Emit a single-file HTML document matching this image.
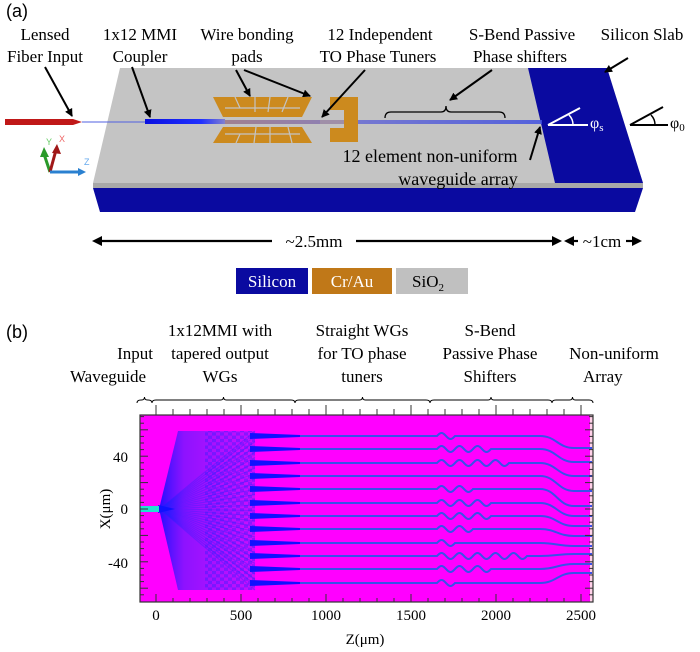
<!DOCTYPE html>
<html><head><meta charset="utf-8"><style>
html,body{margin:0;padding:0;background:#fff;}
svg{display:block;font-family:"Liberation Serif",serif;}
.s{font-family:"Liberation Sans",sans-serif;}
</style></head><body>
<svg id="g" width="700" height="652" viewBox="0 0 700 652" xmlns="http://www.w3.org/2000/svg">
<defs>
<marker id="ah" markerWidth="8" markerHeight="8" refX="7" refY="4" orient="auto" markerUnits="userSpaceOnUse"><path d="M0,0 L8,4 L0,8 z" fill="#000"/></marker>
<linearGradient id="mmi" x1="0" x2="1"><stop offset="0" stop-color="#0a10e0"/><stop offset="0.7" stop-color="#2030ff"/><stop offset="1" stop-color="#8080d0"/></linearGradient>
<linearGradient id="tun" x1="0" x2="1"><stop offset="0" stop-color="#a08090"/><stop offset="1" stop-color="#9080b0"/></linearGradient>
<linearGradient id="arr" x1="0" x2="1"><stop offset="0" stop-color="#7070d0"/><stop offset="1" stop-color="#4050e0"/></linearGradient>
<linearGradient id="fang" x1="0" x2="1"><stop offset="0" stop-color="#1010ff" stop-opacity="0.9"/><stop offset="0.25" stop-color="#3020ff" stop-opacity="0.55"/><stop offset="1" stop-color="#5030ff" stop-opacity="0.3"/></linearGradient>
<pattern id="chk" width="8" height="6.6" patternUnits="userSpaceOnUse"><rect x="0" y="0" width="4" height="3.3" fill="#2020ff" fill-opacity="0.35"/><rect x="4" y="3.3" width="4" height="3.3" fill="#2020ff" fill-opacity="0.35"/></pattern>
</defs>
<text x="6" y="17" class="s" font-size="18">(a)</text>
<g font-size="17" text-anchor="middle">
<text x="45" y="40">Lensed</text><text x="45" y="62">Fiber Input</text>
<text x="140" y="40">1x12 MMI</text><text x="140" y="62">Coupler</text>
<text x="247" y="40">Wire bonding</text><text x="247" y="62">pads</text>
<text x="380" y="40">12 Independent</text><text x="378" y="62">TO Phase  Tuners</text>
<text x="522" y="40">S-Bend Passive</text><text x="520" y="62">Phase shifters</text>
<text x="642" y="40">Silicon Slab</text>
</g>
<polygon points="93,188 643,188 635,212 100,212" fill="#0a0aa0"/>
<polygon points="93,183 643,183 643,188 93,188" fill="#a8a8a8"/>
<polygon points="120,68 607,68 643,183 93,183" fill="#c4c4c4"/>
<polygon points="528,68 607,68 643,183 555,183" fill="#0a0aa0"/>
<rect x="5" y="119" width="68" height="6" fill="#c01818"/>
<polygon points="73,119 82,122 73,125" fill="#c01818"/>
<line x1="82" y1="122" x2="145" y2="122" stroke="#5060e0" stroke-width="1"/>
<rect x="145" y="119" width="80" height="5" fill="url(#mmi)"/>
<rect x="225" y="120" width="95" height="4" fill="url(#tun)"/>
<rect x="320" y="120" width="222" height="4" fill="url(#arr)" opacity="0.85"/>
<g fill="#cc8a1e">
<polygon points="213,97 312,97 302,117 223,117"/>
<polygon points="223,127 302,127 312,143 213,143"/>
<rect x="330" y="97" width="28" height="45"/>
</g>
<g stroke="#c4c4c4" stroke-width="1.2">
<line x1="235" y1="97" x2="240" y2="108"/><line x1="255" y1="97" x2="255" y2="112"/><line x1="270" y1="97" x2="268" y2="112"/><line x1="288" y1="97" x2="282" y2="112"/>
<line x1="225" y1="108" x2="300" y2="108"/>
<line x1="225" y1="134" x2="300" y2="134"/>
<line x1="240" y1="134" x2="236" y2="143"/><line x1="256" y1="127" x2="254" y2="143"/><line x1="270" y1="127" x2="270" y2="143"/><line x1="288" y1="127" x2="292" y2="143"/>
</g>
<rect x="330" y="110" width="14" height="18" fill="#c4c4c4"/>
<rect x="320" y="120" width="24" height="4" fill="#9f8fa8"/>
<path d="M385,118 q0,-6 6,-6 h50 q5,0 5,-6 q0,6 5,6 h48 q6,0 6,6" fill="none" stroke="#000" stroke-width="1.3"/>
<g stroke="#000" stroke-width="2" marker-end="url(#ah)">
<line x1="45" y1="67" x2="72" y2="116"/>
<line x1="132" y1="67" x2="150" y2="117"/>
<line x1="236" y1="70" x2="250" y2="96"/>
<line x1="244" y1="70" x2="310" y2="96"/>
<line x1="365" y1="70" x2="322" y2="117"/>
<line x1="492" y1="70" x2="450" y2="100"/>
<line x1="628" y1="58" x2="605" y2="72"/>
<line x1="530" y1="160" x2="540" y2="127"/>
</g>
<text x="430" y="162" font-size="18" text-anchor="middle">12 element non-uniform</text>
<text x="458" y="185" font-size="18" text-anchor="middle">waveguide array</text>
<g stroke="#fff" stroke-width="2"><line x1="548" y1="125" x2="588" y2="125"/><line x1="548" y1="125" x2="580" y2="108"/></g>
<path d="M573,125 a14,14 0 0 0 -4,-10" fill="none" stroke="#fff" stroke-width="1.5"/>
<text x="590" y="128" font-size="16" fill="#fff">φ<tspan font-size="11" dy="3">s</tspan></text>
<g stroke="#000" stroke-width="2"><line x1="630" y1="125" x2="668" y2="125"/><line x1="630" y1="125" x2="663" y2="107"/></g>
<path d="M655,125 a14,14 0 0 0 -4,-10" fill="none" stroke="#000" stroke-width="1.5"/>
<text x="670" y="128" font-size="16">φ<tspan font-size="11" dy="3">0</tspan></text>
<g stroke-width="3" fill="none">
<line x1="50" y1="172" x2="44" y2="154" stroke="#2a9a2a"/>
<line x1="50" y1="172" x2="56" y2="150" stroke="#a01818"/>
<line x1="50" y1="172" x2="80" y2="172" stroke="#2a80d0"/>
</g>
<polygon points="40,157 44,147 49,157" fill="#2a9a2a"/>
<polygon points="52,153 57,144 61,154" fill="#a01818"/>
<polygon points="78,168 86,172 78,176" fill="#2a80d0"/>
<text x="46" y="145" font-size="9" fill="#6c6" class="s">Y</text>
<text x="59" y="142" font-size="9" fill="#e66" class="s">X</text>
<text x="84" y="165" font-size="9" fill="#6ae" class="s">Z</text>
<g stroke="#000" stroke-width="2.2">
<line x1="96" y1="241" x2="272" y2="241"/><line x1="356" y1="241" x2="558" y2="241"/>
<line x1="568" y1="241" x2="578" y2="241"/><line x1="626" y1="241" x2="636" y2="241"/>
</g>
<g fill="#000">
<polygon points="92,241 102,236 102,246"/><polygon points="562,241 552,236 552,246"/>
<polygon points="564,241 574,236 574,246"/><polygon points="642,241 632,236 632,246"/>
</g>
<text x="314" y="247" font-size="17" text-anchor="middle">~2.5mm</text>
<text x="602" y="247" font-size="17" text-anchor="middle">~1cm</text>
<rect x="236" y="268" width="72" height="26" fill="#0a0aa0"/>
<rect x="312" y="268" width="80" height="26" fill="#c07818"/>
<rect x="396" y="268" width="72" height="26" fill="#c0c0c0"/>
<text x="272" y="287" font-size="17" fill="#fff" text-anchor="middle">Silicon</text>
<text x="352" y="287" font-size="17" fill="#fff" text-anchor="middle">Cr/Au</text>
<text x="428" y="287" font-size="17" text-anchor="middle">SiO<tspan font-size="11" dy="4">2</tspan></text>
<text x="6" y="338" class="s" font-size="18">(b)</text>
<g font-size="17" text-anchor="middle">
<text x="220" y="336">1x12MMI with</text><text x="220" y="359">tapered output</text><text x="220" y="382">WGs</text>
<text x="153" y="359" text-anchor="end">Input</text><text x="108" y="382">Waveguide</text>
<text x="362" y="336">Straight WGs</text><text x="362" y="359">for TO phase</text><text x="362" y="382">tuners</text>
<text x="490" y="336">S-Bend</text><text x="490" y="359">Passive Phase</text><text x="490" y="382">Shifters</text>
<text x="614" y="359">Non-uniform</text><text x="583" y="382" text-anchor="start">Array</text>
</g>
<g id="braces" fill="none" stroke="#000" stroke-width="1"></g>
<rect x="140" y="415" width="453" height="187" fill="#ff00ff"/>
<rect x="590" y="415" width="3" height="187" fill="#ffd0e8"/>
<polygon points="160,505 178,431 255,431 255,590 178,590 160,513" fill="url(#fang)"/>
<polygon points="205,431 255,431 255,590 205,590" fill="url(#chk)"/>
<g id="fan"></g>
<rect x="140" y="506" width="19" height="6" fill="#20e0d0"/>
<g id="wg" fill="none" stroke="#3a50e8" stroke-width="2"></g>
<rect x="140" y="415" width="453" height="187" fill="none" stroke="#333" stroke-width="1.2"/>
<g id="ticks" stroke="#333" stroke-width="1"></g>
<g font-size="15" text-anchor="middle" id="xl"></g>
<text x="128" y="462" font-size="15" text-anchor="end">40</text>
<text x="128" y="514" font-size="15" text-anchor="end">0</text>
<text x="128" y="568" font-size="15" text-anchor="end">-40</text>
<text x="365" y="644" font-size="15" text-anchor="middle">Z(μm)</text>
<text x="110" y="509" font-size="15" text-anchor="middle" transform="rotate(-90 110 509)">X(μm)</text>
</svg>
<script>
var NS="http://www.w3.org/2000/svg";
function el(p,t,a){var e=document.createElementNS(NS,t);for(var k in a)e.setAttribute(k,a[k]);document.getElementById(p).appendChild(e);return e;}
var zx=function(z){return 156+z*0.17;};
for(var z=-100;z<=2700;z+=100){var x=zx(z);if(x<141||x>592)continue;var maj=z%500==0;
el("ticks","line",{x1:x,y1:602,x2:x,y2:602-(maj?8:4)});el("ticks","line",{x1:x,y1:415,x2:x,y2:415-(maj?10:6)});
if(maj){var t=el("xl","text",{x:x,y:620});t.textContent=z;}}
for(var xv=-70;xv<=70;xv+=5){var y=509-xv*1.32;if(y<416||y>601)continue;var m=xv%20==0;
el("ticks","line",{x1:140,y1:y,x2:140+(m?8:4),y2:y});el("ticks","line",{x1:593,y1:y,x2:593-(m?8:4),y2:y});}
[[137,152],[152,295],[295,430],[430,552],[552,593]].forEach(function(b){var a=b[0],c=b[1],m=(a+c)/2,y=400;
el("braces","path",{d:"M"+a+","+(y+3)+" q0,-3 4,-3 H"+(m-3)+" q3,0 3,-3 q0,3 3,3 H"+(c-4)+" q4,0 4,3"});});
for(var i=0;i<=30;i++){var y=431+i*159/30;
el("fan","line",{x1:160,y1:509,x2:255,y2:y,stroke:"#2020ff","stroke-opacity":0.3,"stroke-width":1.2});}
el("fan","polygon",{points:"158,505 175,509 158,513",fill:"#1010ff"});
var y0=[436,449,463,476,489,503,516,529,543,556,569,583];
var ye=[448,462,476,491,506,516,526,536,546,554,564,573];
var nb=[1,3,4,0,2,3,3,2,1,5,3,1];
for(var i=0;i<12;i++){var d="M255,"+y0[i]+" L437,"+y0[i];var x;
for(x=437;x<=437+nb[i]*18;x+=1){d+=" L"+x+","+(y0[i]-3*Math.sin(Math.PI*(x-437)/9)).toFixed(2);}
d+=" L540,"+y0[i]+" C556,"+y0[i]+" 558,"+ye[i]+" 574,"+ye[i]+" L592,"+ye[i];
el("wg","path",{d:d});
el("wg","polygon",{points:"250,"+(y0[i]-3)+" 300,"+(y0[i]-1)+" 300,"+(y0[i]+1)+" 250,"+(y0[i]+3),fill:"#1010ff",stroke:"none"});}
</script>
</body></html>
